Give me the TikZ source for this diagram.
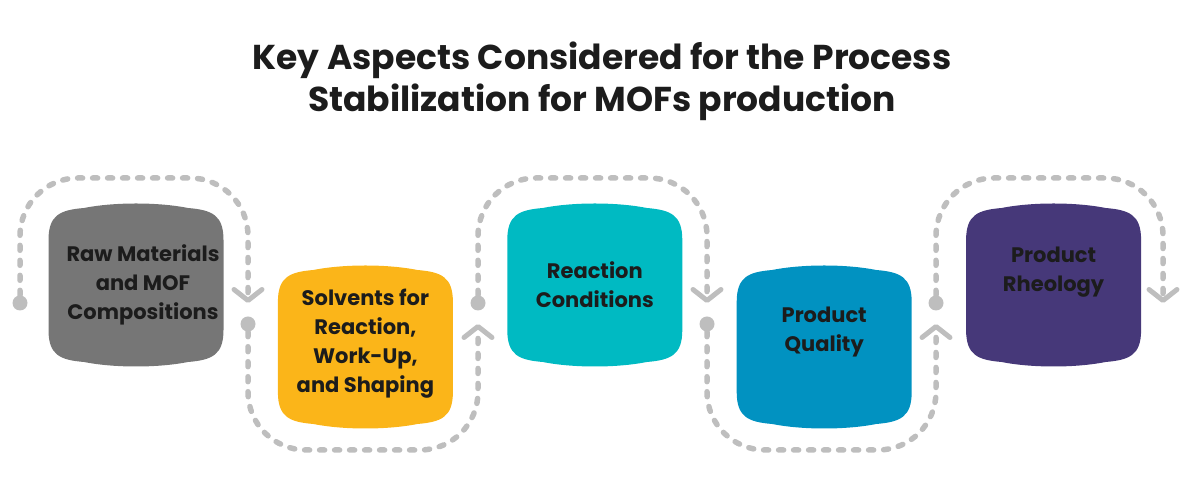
\documentclass[tikz,border=0pt]{standalone}
\usepackage{fontspec}
\setmainfont{Poppins}
\usetikzlibrary{arrows.meta, positioning}
\definecolor{Ink}{HTML}{1C1C1C}
\definecolor{Slate}{HTML}{767676}
\definecolor{Amber}{HTML}{FBB519}
\definecolor{Teal}{HTML}{00BAC2}
\definecolor{Ocean}{HTML}{0192C1}
\definecolor{Plum}{HTML}{463879}
\definecolor{DotGray}{HTML}{BEBEBE}
\tikzset{
  stagebox/.style={rectangle, minimum width=175pt, minimum height=164pt,
    draw=none, inner sep=0pt},
  stagetext/.style={align=center, text=Ink,
    font=\fontsize{21}{29}\selectfont\bfseries},
  titletext/.style={align=center, text=Ink,
    font=\fontsize{34.5}{42}\selectfont\bfseries},
  dotmark/.style={circle, fill=DotGray, minimum size=15pt, inner sep=0pt},
  looppath/.style={color=DotGray, line width=5.5pt, line cap=round,
    dash pattern=on 5pt off 10pt, rounded corners=58pt,
    -{Straight Barb[round, length=11pt, width=28pt, line width=5pt, sep=4pt]}},
}
% soft blob behind a stage node
\newcommand{\stageblob}[2]{%
  \fill[#2, shift={(#1.center)}] (-87.5,-45) -- (-87.5,45)
    .. controls (-87.5,70) and (-76,75) .. (-52,77)
    .. controls (-22,83) and (22,83) .. (52,77)
    .. controls (76,75) and (87.5,70) .. (87.5,45) -- (87.5,-45)
    .. controls (87.5,-70) and (76,-75) .. (52,-77)
    .. controls (22,-83) and (-22,-83) .. (-52,-77)
    .. controls (-76,-75) and (-87.5,-70) .. (-87.5,-45) -- cycle;}
\begin{document}
\begin{tikzpicture}[x=1pt, y=1pt, node distance=54pt]
  \useasboundingbox (0,0) rectangle (1200,500);
  \node (title) [titletext] at (602,419)
    {Key Aspects Considered for the Process\\Stabilization for MOFs production};

  \node (raw)   [stagebox] at (136,215)             {};
  \node (solv)  [stagebox, right=of raw,   yshift=-62pt] {};
  \node (react) [stagebox, right=of solv,  yshift=62pt]  {};
  \node (qual)  [stagebox, right=of react, yshift=-62pt] {};
  \node (rheo)  [stagebox, right=of qual,  yshift=62pt]  {};

  \stageblob{raw}{Slate}
  \stageblob{solv}{Amber}
  \stageblob{react}{Teal}
  \stageblob{qual}{Ocean}
  \stageblob{rheo}{Plum}

  \node (rawtxt)   [stagetext] at ([xshift=7pt]raw.center)   {Raw Materials\\and MOF\\Compositions};
  \node (solvtxt)  [stagetext] at ([yshift=3pt]solv.center)  {Solvents for\\Reaction,\\Work-Up,\\and Shaping};
  \node (reacttxt) [stagetext] at (react.center)             {Reaction\\Conditions};
  \node (qualtxt)  [stagetext] at ([yshift=15pt]qual.center) {Product\\Quality};
  \node (rheotxt)  [stagetext] at ([yshift=13pt]rheo.center) {Product\\Rheology};

  \node (d1) [dotmark] at (20,197)  {};
  \node (d2) [dotmark] at (248,176) {};
  \node (d3) [dotmark] at (478,197) {};
  \node (d4) [dotmark] at (707,176) {};
  \node (d5) [dotmark] at (936,197) {};
  \coordinate (e1) at (248,193);
  \coordinate (e2) at (478,180);
  \coordinate (e3) at (707,193);
  \coordinate (e4) at (936,180);
  \coordinate (e5) at (1163,193);

  \draw[looppath] (d1.north) |- ([yshift=129pt]e1)  -- (e1);
  \draw[looppath] (d2.south) |- ([yshift=-130pt]e2) -- (e2);
  \draw[looppath] (d3.north) |- ([yshift=129pt]e3)  -- (e3);
  \draw[looppath] (d4.south) |- ([yshift=-130pt]e4) -- (e4);
  \draw[looppath] (d5.north) |- ([yshift=129pt]e5)  -- (e5);
\end{tikzpicture}
\end{document}
